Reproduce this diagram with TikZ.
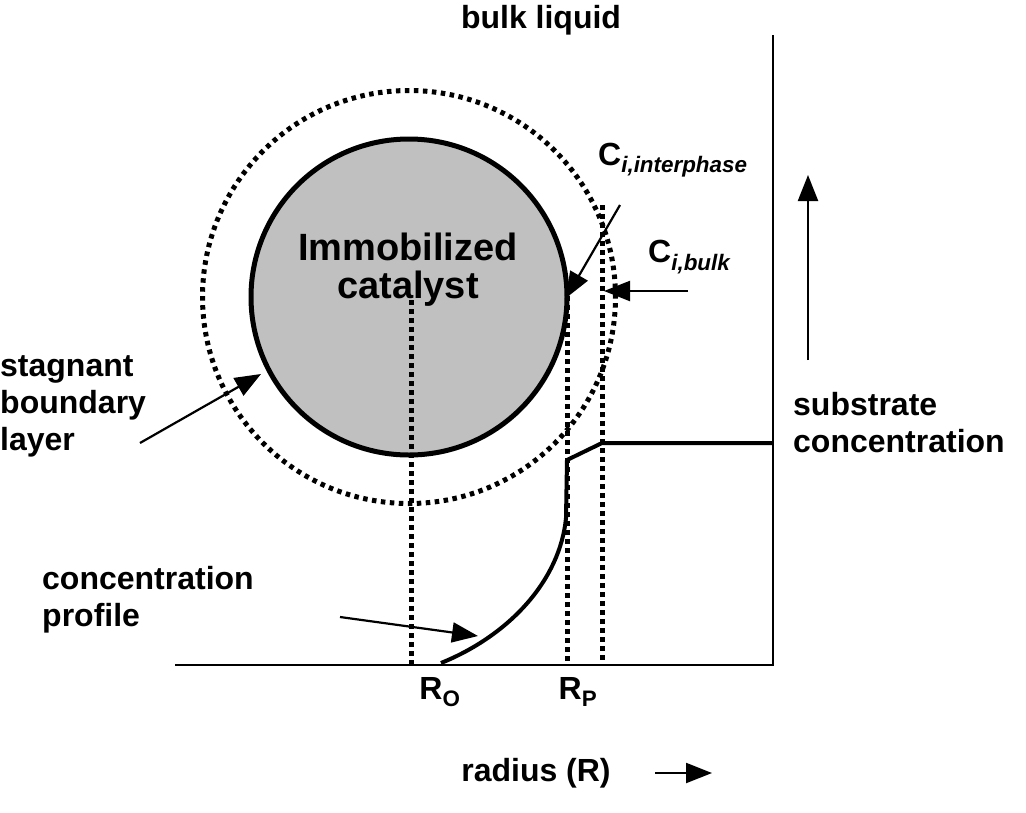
\documentclass[tikz,border=0pt]{standalone}
\usepackage{fontspec}
\setmainfont{Liberation Sans}
\usetikzlibrary{arrows.meta}
\begin{document}
\begin{tikzpicture}[x=1pt,y=-1pt,
  lab/.style={font=\fontsize{32}{37}\selectfont\bfseries,align=left,inner sep=0},
  dot/.style={line width=5pt,dash pattern=on 4.5pt off 4.5pt},
  arr/.style={line width=2.2pt,-{Triangle[length=26pt,width=20pt]}}]
\useasboundingbox (0,0) rectangle (1026,812);
% circles
\node[circle,draw,line width=5pt,fill={rgb,255:red,192;green,192;blue,192},minimum size=316pt,inner sep=0] (cat) at (409,297) {};
\node[circle,draw,dot,minimum size=413pt,inner sep=0] (layer) at (409,297) {};
\node[font=\fontsize{38}{38}\selectfont\bfseries,align=center] (ct) at (408,270) {Immobilized\\catalyst};
% axes
\coordinate (o) at (175,665); \coordinate (xe) at (773,665); \coordinate (yt) at (773,35);
\draw[line width=2.6pt] (o) -- (xe) -- (yt);
% dotted verticals
\coordinate (d1t) at (411,300); \coordinate (d1b) at (411,665);
\coordinate (d2t) at (567,296); \coordinate (d2b) at (567,665);
\coordinate (d3t) at (602,205); \coordinate (d3b) at (602,665);
\draw[dot] (d1t) -- (d1b); \draw[dot] (d2t) -- (d2b); \draw[dot] (d3t) -- (d3b);
% profile
\coordinate (p0) at (441,663); \coordinate (p1) at (566,518);
\coordinate (p2) at (567,460); \coordinate (p3) at (602,443); \coordinate (p4) at (773,443);
\draw[line width=4pt] (p0) .. controls (510,635) and (560,580) .. (p1) -- (p2) -- (p3) -- (p4);
% labels
\node[lab] (bulk) at (541,20) {bulk liquid};
\node[lab,anchor=west] (ci) at (598,160) {C\textsubscript{\itshape i,interphase}};
\node[lab,anchor=west] (cb) at (648,257) {C\textsubscript{\itshape i,bulk}};
\node[lab,anchor=west] (sb) at (0,406) {stagnant\\boundary\\layer};
\node[lab,anchor=west] (sc) at (793,423) {substrate\\concentration};
\node[lab,anchor=west] (cp) at (42,600) {concentration\\profile};
\node[lab] (ro) at (440,692) {R\textsubscript{O}};
\node[lab] (rp) at (578,692) {R\textsubscript{P}};
\node[lab] (rad) at (536,773) {radius (R)};
% arrows
\coordinate (a1s) at (620,205); \coordinate (a1e) at (566,298);
\coordinate (a2s) at (688,291); \coordinate (a2e) at (604,291);
\coordinate (a3s) at (140,443); \coordinate (a3e) at (261,374);
\coordinate (a4s) at (340,617); \coordinate (a4e) at (478,636);
\coordinate (a5s) at (808,360); \coordinate (a5e) at (808,175);
\coordinate (a6s) at (655,773); \coordinate (a6e) at (712,773);
\draw[arr] (a1s) -- (a1e); \draw[arr] (a2s) -- (a2e);
\draw[arr] (a3s) -- (a3e); \draw[arr] (a4s) -- (a4e);
\draw[arr] (a5s) -- (a5e); \draw[arr] (a6s) -- (a6e);
\end{tikzpicture}
\end{document}
